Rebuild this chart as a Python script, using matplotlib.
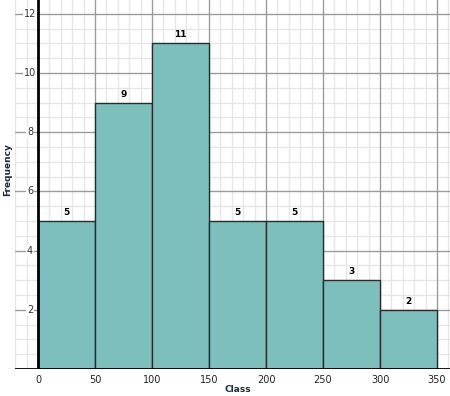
import numpy as np
import matplotlib.pyplot as plt

# class intervals and frequencies
bin_edges = [0, 50, 100, 150, 200, 250, 300, 350]
frequencies = [5, 9, 11, 5, 5, 3, 2]
x_ticks = [0, 50, 100, 150, 200, 250, 300, 350]
y_ticks = [2, 4, 6, 8, 10, 12]

BAR_COLOR = "#7dbfbc"
EDGE_COLOR = "#2b2b2b"

fig = plt.figure(figsize=(4.5, 3.96), dpi=100)
ax = fig.add_axes([15 / 450, 27 / 396, 435 / 450, 369 / 396])

ax.set_xlim(-20.2, 361.4)
ax.set_ylim(0, 12.47)

# grid: minor every 10 / 0.5, major every 50 / 2
for x in np.arange(-20, 361, 10):
    ax.axvline(x, color="#e6e6e6", lw=1.0, zorder=0)
for y in np.arange(0, 12.5, 0.5):
    ax.axhline(y, color="#e6e6e6", lw=1.0, zorder=0)
for x in np.arange(50, 361, 50):
    ax.axvline(x, color="#9a9a9a", lw=0.9, zorder=0.5)
for y in y_ticks:
    ax.axhline(y, color="#9a9a9a", lw=0.9, zorder=0.5)

lefts = np.array(bin_edges[:-1])
widths = np.diff(bin_edges)
bars = ax.bar(lefts, frequencies, width=widths, align="edge",
              color=BAR_COLOR, edgecolor=EDGE_COLOR, linewidth=1.0, zorder=2)

for left, w, f in zip(lefts, widths, frequencies):
    ax.annotate(str(f), (left + w / 2, f), xytext=(0, 3), textcoords="offset points",
                ha="center", va="bottom", fontsize=6.5, fontweight="bold",
                color="black", zorder=4)

# axis lines through the origin
ax.axhline(0, color="black", lw=2.0, zorder=3)
ax.axvline(0, color="black", lw=2.0, zorder=3)

for s in ax.spines.values():
    s.set_visible(False)
ax.set_xticks([])
ax.set_yticks([])

for x in x_ticks:
    ax.annotate(str(x), (x, 0), xytext=(0, -4), textcoords="offset points",
                ha="center", va="top", fontsize=7, color="#222222",
                annotation_clip=False)
for y in y_ticks:
    ax.text(-7, y, str(y), ha="center", va="center", fontsize=7, color="#333333",
            bbox=dict(facecolor="white", edgecolor="none", pad=0.6), zorder=1)

fig.text(238 / 450, 1 - 390 / 396, "Class", ha="center", va="center",
         fontsize=6.5, fontweight="bold", color="#1c2a45")
fig.text(8 / 450, 1 - 170 / 396, "Frequency", ha="center", va="center",
         rotation=90, fontsize=6.5, fontweight="bold", color="#1c2a45")

fig.savefig("out.png", dpi=100)
